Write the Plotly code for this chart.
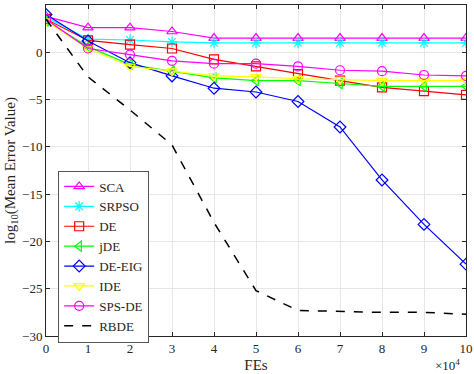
import plotly.graph_objects as go

fes = [0, 1, 2, 3, 4, 5, 6, 7, 8, 9, 10]
sca = [3.8, 2.6, 2.6, 2.2, 1.5, 1.5, 1.5, 1.5, 1.5, 1.5, 1.5]
srpso = [3.7, 1.4, 1.3, 1.1, 1.0, 1.0, 1.0, 1.0, 1.0, 1.0, 1.0]
de = [3.5, 1.25, 0.8, 0.4, -0.75, -1.5, -2.3, -3.0, -3.7, -4.1, -4.5]
jde = [3.3, 0.6, -1.3, -2.0, -2.7, -3.0, -3.0, -3.3, -3.6, -3.6, -3.6]
ide = [3.3, 0.4, -1.5, -2.0, -2.5, -2.6, -2.8, -2.9, -3.0, -3.0, -3.0]
deeig = [4.0, 1.2, -1.1, -2.5, -3.8, -4.2, -5.2, -7.9, -13.5, -18.2, -22.4]
spsde = [3.5, 0.4, -0.25, -0.9, -1.2, -1.2, -1.5, -1.9, -2.0, -2.4, -2.5]
rbde = [3.5, -2.6, -6.1, -9.8, -18.0, -25.2, -27.3, -27.4, -27.5, -27.5, -27.7]

series = [
    ("SCA", sca, "#ff00ff", "triangle-up-open"),
    ("SRPSO", srpso, "#00ffff", "asterisk-open"),
    ("DE", de, "#ff0000", "square-open"),
    ("jDE", jde, "#00ff00", "triangle-left-open"),
    ("DE-EIG", deeig, "#0000ff", "diamond-open"),
    ("IDE", ide, "#ffff00", "triangle-down-open"),
    ("SPS-DE", spsde, "#ff00ff", "circle-open"),
]

fig = go.Figure()
for name, ys, color, sym in series:
    fig.add_trace(go.Scatter(
        x=fes, y=ys, name=name, mode="lines+markers",
        line=dict(color=color, width=1.2),
        marker=dict(symbol=sym, size=9, color=color, line=dict(color=color, width=1.2)),
    ))
fig.add_trace(go.Scatter(
    x=fes, y=rbde, name="RBDE", mode="lines",
    line=dict(color="black", width=1.5, dash="dash"),
))

font = "Liberation Serif, Times New Roman, serif"
fig.update_layout(
    width=474, height=374,
    margin=dict(l=46, r=8, t=5, b=38),
    paper_bgcolor="white", plot_bgcolor="white",
    font=dict(family=font, size=13, color="#262626"),
    showlegend=True,
    legend=dict(x=0.029, y=0.50, xanchor="left", yanchor="top",
                bgcolor="white", bordercolor="#555555", borderwidth=1,
                font=dict(family=font, size=13, color="#262626"),
                tracegroupgap=0, itemwidth=30),
    xaxis=dict(range=[0, 10], tickvals=list(range(0, 11)), showgrid=True, automargin=False,
               gridcolor="#e6e6e6", zeroline=False, showline=True, mirror="ticks",
               linecolor="#262626", ticks="inside", ticklen=4, tickcolor="#262626",
               tickfont=dict(size=13),
               title=dict(text="FEs", standoff=4, font=dict(size=15))),
    yaxis=dict(range=[-30, 5], tickvals=[5, 0, -5, -10, -15, -20, -25, -30], showgrid=True,
               automargin=False,
               gridcolor="#e6e6e6", zeroline=False, showline=True, mirror="ticks",
               linecolor="#262626", ticks="inside", ticklen=4, tickcolor="#262626",
               tickfont=dict(size=13),
               title=dict(text="log<sub>10</sub>(Mean Error Value)", standoff=2, font=dict(size=15))),
)
fig.add_annotation(text="×10<sup>4</sup>", xref="paper", yref="paper", x=0.99, y=-0.088,
                   xanchor="right", yanchor="middle", showarrow=False,
                   font=dict(family=font, size=13, color="#262626"))
fig.write_html("out.html", config={"displayModeBar": False},
               post_script="document.body.style.margin='0';document.body.style.padding='0';window.dispatchEvent(new Event('resize'));")
